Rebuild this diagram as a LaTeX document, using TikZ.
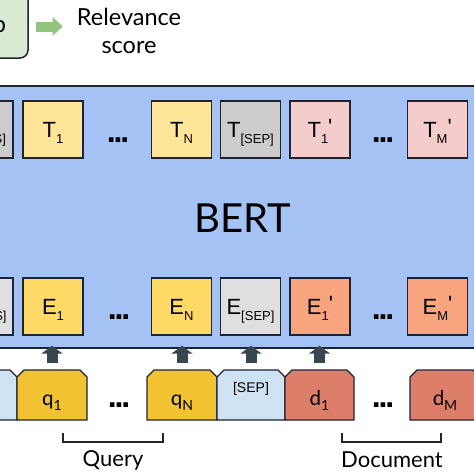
\documentclass[tikz,border=0pt]{standalone}
\usepackage{fontspec}
\setmainfont{Lato}
\newfontfamily\arialf{Liberation Sans}[Ligatures=TeXOff]
\usetikzlibrary{arrows.meta}
\definecolor{bertblue}{HTML}{A4C2F4}
\definecolor{bline}{HTML}{1C2433}
\definecolor{tyel}{HTML}{FFE599}
\definecolor{eyel}{HTML}{FFD966}
\definecolor{tgray}{HTML}{CCCCCC}
\definecolor{egray}{HTML}{DFDFDF}
\definecolor{tpink}{HTML}{F4CCCC}
\definecolor{eorange}{HTML}{F8A47E}
\definecolor{qgold}{HTML}{F1C232}
\definecolor{dred}{HTML}{DD7E6B}
\definecolor{sblue}{HTML}{CFE2F3}
\definecolor{aslate}{HTML}{37474F}
\definecolor{ogreen}{HTML}{D9EAD3}
\definecolor{agreen}{HTML}{93C47D}
\newcommand\tsub[1]{\raisebox{-6pt}{\fontsize{13}{13}\selectfont #1}}
\newcommand\tprm{\raisebox{3pt}{'}}
\newcommand\qsub[1]{\raisebox{-5pt}{\fontsize{14}{14}\selectfont #1}}
\newcommand\tdots{.\kern-2.2pt.\kern-2.2pt.}
\newcommand\btok[6]{%
  \draw[tokline, fill=#4] (#2,420) -- (#2,377) -- ({#2+7},370) -- ({#3-7},370) -- (#3,377) -- (#3,420) -- cycle;
  \node[tokn, minimum width={#3-(#2)}, #6] (#1) at ({(#2+#3)/2},395) {#5};}
\begin{document}
\begin{tikzpicture}[x=1pt,y=-1pt,
  tbox/.style={draw=bline, line width=1.4pt, minimum width=60pt, minimum height=57pt, inner sep=0pt,
    text height=15pt, text depth=0pt, font=\arialf\fontsize{22}{22}\selectfont},
  tokline/.style={draw=bline, line width=1.3pt},
  tokn/.style={inner sep=0pt, minimum height=50pt, text height=20pt, text depth=0pt,
    font=\fontsize{20.5}{20.5}\selectfont},
  septxt/.style={text height=0pt, text depth=6pt, font=\arialf\fontsize{14}{14}\selectfont},
  bigarrow/.style={draw=aslate, line width=11pt, -{Triangle[width=21pt,length=8pt]},
    shorten <=7pt, shorten >=10pt},
  garrow/.style={draw=agreen, line width=10pt, -{Triangle[width=18pt,length=10pt]}},
  dotsty/.style={anchor=base, inner sep=0pt, font=\arialf\bfseries\fontsize{32}{32}\selectfont},
  brk/.style={draw=black!85, line width=1.5pt},
  lbl/.style={anchor=base, inner sep=0pt, font=\fontsize{22}{22}\selectfont}]
\useasboundingbox (0,0) rectangle (474,474);
\clip (0,0) rectangle (474,474);
% output box and relevance score
\node[draw=bline, fill=ogreen, rounded corners=8pt, line width=1.5pt, minimum width=57pt,
  minimum height=68pt, text height=16pt, text depth=0pt, inner sep=0pt,
  font=\fontsize{23}{23}\selectfont] (out) at (-0.5,24) {p};
\node[align=center, inner sep=2pt, font=\fontsize{23.5}{28}\selectfont] (rel) at (129,30.5) {Relevance\\score};
\draw[garrow, shorten <=7pt, shorten >=12pt] ([yshift=-2.5pt]out.east) -- ([yshift=-2.5pt]out.east -| rel.west);
% BERT box
\node[draw=bline, fill=bertblue, line width=1.6pt, minimum width=482pt, minimum height=262pt, inner sep=0pt] (bert) at (235,217) {};
\node[anchor=base, inner sep=0pt, font=\fontsize{40}{40}\selectfont] (bertlbl) at (243,232) {BERT};
% T row
\node[tbox, fill=tgray] (tcls) at (-17,129.5) {T\tsub{[CLS]}};
\node[tbox, fill=tyel] (t1) at (53,129.5) {T\tsub{1}};
\node[tbox, fill=tyel] (tn) at (181.5,129.5) {T\tsub{N}};
\node[tbox, fill=tgray] (tsep) at (250.5,129.5) {T\tsub{[SEP]}};
\node[tbox, fill=tpink] (t1p) at (320,129.5) {T\tsub{1}\tprm};
\node[tbox, fill=tpink] (tmp) at (437.5,129.5) {T\tsub{M}\tprm};
\node[dotsty] (dt1) at (118,142.2) {\tdots};
\node[dotsty] (dt2) at (383,142.2) {\tdots};
% E row
\node[tbox, fill=egray] (ecls) at (-17,306.5) {E\tsub{[CLS]}};
\node[tbox, fill=eyel] (e1) at (53,306.5) {E\tsub{1}};
\node[tbox, fill=eyel] (en) at (181.5,306.5) {E\tsub{N}};
\node[tbox, fill=egray] (esep) at (250.5,306.5) {E\tsub{[SEP]}};
\node[tbox, fill=eorange] (e1p) at (320,306.5) {E\tsub{1}\tprm};
\node[tbox, fill=eorange] (emp) at (437.5,306.5) {E\tsub{M}\tprm};
\node[dotsty] (de1) at (119,319.2) {\tdots};
\node[dotsty] (de2) at (383,319.2) {\tdots};
% input tokens
\btok{icls}{-52}{17}{sblue}{[CLS]}{septxt}
\btok{q1}{17}{87}{qgold}{q\qsub{1}}{}
\btok{qn}{147}{217}{qgold}{q\qsub{N}}{}
\btok{isep}{217}{285}{sblue}{[SEP]}{septxt}
\btok{d1}{285}{354}{dred}{d\qsub{1}}{}
\btok{dm}{410}{480}{dred}{d\qsub{M}}{}
\node[dotsty] (di1) at (119,407.2) {\tdots};
\node[dotsty] (di2) at (383,407.2) {\tdots};
% arrows
\draw[bigarrow] (q1.north) -- (q1.north |- e1.south);
\draw[bigarrow] (qn.north) -- (qn.north |- en.south);
\draw[bigarrow] (isep.north) -- (isep.north |- esep.south);
\draw[bigarrow] (d1.north) -- (d1.north |- e1p.south);
% brackets
\draw[brk] (63,433) -- (63,442) -- (163,442) -- (163,433);
\draw[brk] (342,433) -- (342,442) -- (441,442) -- (441,433);
\node[lbl] (query) at (113,466) {Query};
\node[lbl] (doc) at (392,467) {Document};
\end{tikzpicture}
\end{document}
